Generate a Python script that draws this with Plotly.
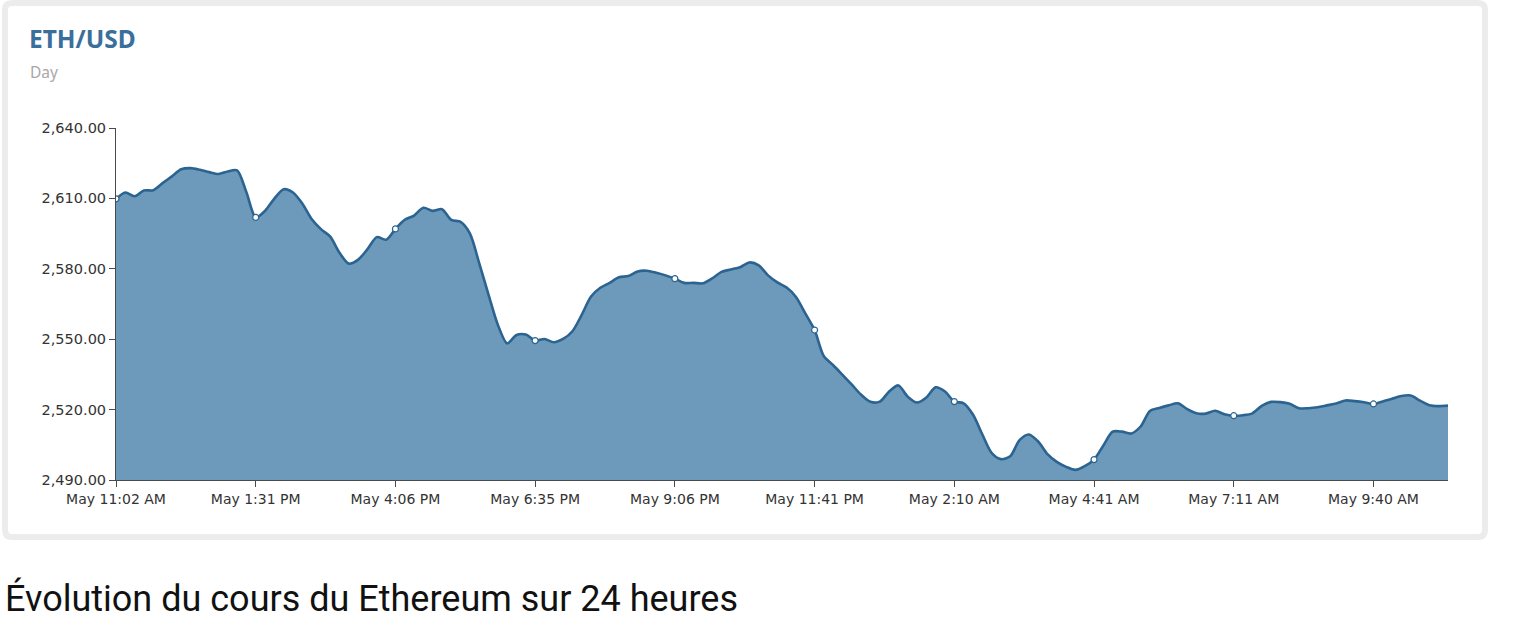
import plotly.graph_objects as go

# ---- data (ETH/USD, one sample every ~10 minutes, 15 samples per labelled tick) ----
prices = [
    2609.8, 2612.5, 2610.9, 2613.4, 2613.5, 2616.5, 2619.4, 2622.4, 2622.9, 2622.2,
    2621.2, 2620.4, 2621.5, 2621.9, 2612.6, 2601.9, 2604.7, 2609.9, 2613.9, 2612.5,
    2607.8, 2601.2, 2596.9, 2593.7, 2586.8, 2582.2, 2583.9, 2588.4, 2593.5, 2592.4,
    2597.0, 2600.9, 2602.7, 2606.0, 2604.7, 2605.4, 2600.8, 2600.0, 2595.0, 2582.3,
    2568.9, 2556.1, 2548.2, 2551.8, 2552.0, 2549.4, 2550.1, 2548.7, 2550.1, 2553.4,
    2560.4, 2568.2, 2571.9, 2574.0, 2576.4, 2576.9, 2578.9, 2579.2, 2578.3, 2577.2,
    2575.8, 2574.0, 2574.0, 2573.8, 2575.9, 2578.7, 2579.7, 2580.7, 2582.7, 2581.5,
    2577.2, 2574.2, 2572.0, 2568.0, 2561.0, 2553.9, 2542.7, 2538.9, 2534.8, 2530.6,
    2526.3, 2523.3, 2523.4, 2527.7, 2530.3, 2525.5, 2523.0, 2525.2, 2529.5, 2527.7,
    2523.4, 2522.7, 2517.9, 2509.5, 2501.6, 2498.9, 2500.1, 2507.0, 2509.4, 2506.4,
    2501.0, 2497.7, 2495.6, 2494.3, 2495.9, 2498.7, 2504.7, 2510.6, 2510.6, 2509.8,
    2512.8, 2519.4, 2520.7, 2521.8, 2522.7, 2520.2, 2518.4, 2518.3, 2519.5, 2518.0,
    2517.4, 2517.6, 2518.4, 2521.6, 2523.3, 2523.2, 2522.5, 2520.6, 2520.6, 2521.0,
    2521.8, 2522.6, 2523.9, 2523.6, 2523.1, 2522.4, 2523.5, 2524.6, 2525.8, 2526.0,
    2523.8, 2521.9, 2521.5, 2521.7,
]
sample_index = list(range(len(prices)))

tick_index = [0, 15, 30, 45, 60, 75, 90, 105, 120, 135]
tick_labels = [
    "May 11:02 AM", "May 1:31 PM", "May 4:06 PM", "May 6:35 PM", "May 9:06 PM",
    "May 11:41 PM", "May 2:10 AM", "May 4:41 AM", "May 7:11 AM", "May 9:40 AM",
]
y_ticks = [2490, 2520, 2550, 2580, 2610, 2640]

title_text = "ETH/USD"
subtitle_text = "Day"
caption_text = "Évolution du cours du Ethereum sur 24 heures"

# ---- styling / layout ----
W, H = 1540, 632
L, R, T, B = 116, 1448, 128, 480
LINE = "#2b6391"
FILL = "#6d9aba"
AX = "#4a4a4a"
FONT = "Noto Sans"
TICKFONT = "DejaVu Sans"


def px(xp):
    return (xp - L) / (R - L)


def py(yp):
    return (B - yp) / (B - T)


fig = go.Figure()
fig.add_trace(go.Scatter(
    x=sample_index, y=prices, mode="lines",
    line=dict(color=LINE, width=2.6, shape="spline", smoothing=0.8),
    fill="tozeroy", fillcolor=FILL, hoverinfo="skip", showlegend=False,
))
fig.add_trace(go.Scatter(
    x=tick_index, y=[prices[i] for i in tick_index], mode="markers",
    marker=dict(color="white", size=6, line=dict(color=LINE, width=1.2)),
    hoverinfo="skip", showlegend=False,
))

# card border (rounded rectangle)
x0, x1, y0, y1, r = 5, 1485, 3, 537, 7
path = (
    f"M {px(x0 + r)},{py(y0)} L {px(x1 - r)},{py(y0)} "
    f"Q {px(x1)},{py(y0)} {px(x1)},{py(y0 + r)} L {px(x1)},{py(y1 - r)} "
    f"Q {px(x1)},{py(y1)} {px(x1 - r)},{py(y1)} L {px(x0 + r)},{py(y1)} "
    f"Q {px(x0)},{py(y1)} {px(x0)},{py(y1 - r)} L {px(x0)},{py(y0 + r)} "
    f"Q {px(x0)},{py(y0)} {px(x0 + r)},{py(y0)} Z"
)

fig.update_layout(
    width=W, height=H,
    margin=dict(l=L, r=W - R, t=T, b=H - B, pad=0),
    paper_bgcolor="white", plot_bgcolor="white",
    font=dict(family=FONT, size=14, color="#333333"),
    shapes=[dict(type="path", path=path, xref="paper", yref="paper",
                 line=dict(color="#ececec", width=6), fillcolor="rgba(0,0,0,0)",
                 layer="below")],
    annotations=[
        dict(text=f"<b>{title_text}</b>", x=px(27), y=py(38), xref="paper", yref="paper",
             xanchor="left", yanchor="middle", showarrow=False,
             font=dict(family=FONT, size=24.5, color="#3a6f9c")),
        dict(text=subtitle_text, x=px(28), y=py(72), xref="paper", yref="paper",
             xanchor="left", yanchor="middle", showarrow=False,
             font=dict(family=FONT, size=15.5, color="#a8a8a8")),
        dict(text=caption_text, x=px(3), y=py(598), xref="paper", yref="paper",
             xanchor="left", yanchor="middle", showarrow=False,
             font=dict(family="Roboto", size=36, color="#111111")),
    ],
    xaxis=dict(
        range=[0, len(prices) - 1], tickmode="array", tickvals=tick_index, ticktext=tick_labels,
        showgrid=False, zeroline=False, showline=True, linecolor=AX, linewidth=1,
        ticks="outside", ticklen=6, tickcolor=AX, tickwidth=1,
        tickfont=dict(family=TICKFONT, size=14, color="#333333"), fixedrange=True,
    ),
    yaxis=dict(
        range=[2490, 2640], tickmode="array", tickvals=y_ticks, tickformat=",.2f",
        showgrid=False, zeroline=False, showline=True, linecolor=AX, linewidth=1,
        ticks="outside", ticklen=6, tickcolor=AX, tickwidth=1,
        tickfont=dict(family=TICKFONT, size=14.5, color="#333333"), fixedrange=True,
    ),
)

fig.write_html("out.html", config={"displayModeBar": False},
               post_script="document.body.style.margin='0';")
